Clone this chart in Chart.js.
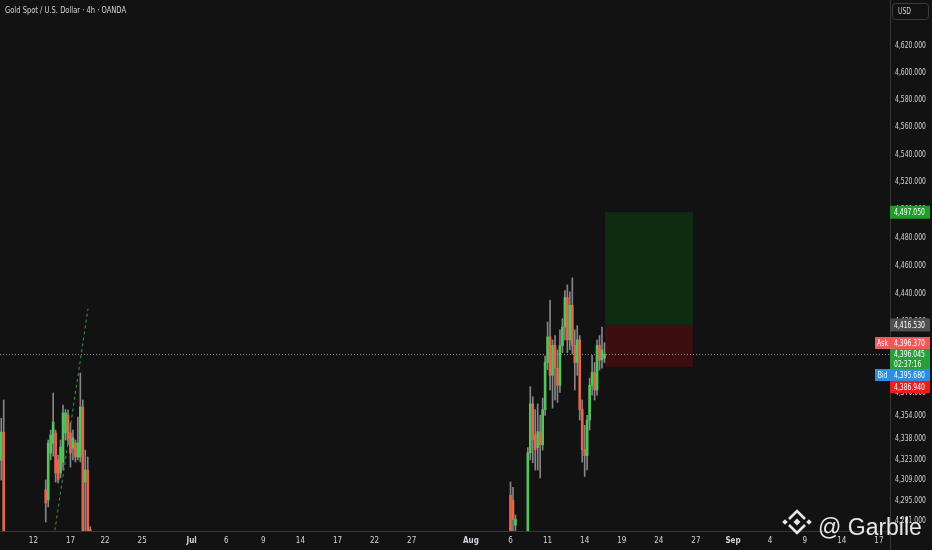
<!DOCTYPE html>
<html>
<head>
<meta charset="utf-8">
<title>Gold Spot / U.S. Dollar · 4h · OANDA</title>
<style>
html,body{margin:0;padding:0;background:#121212;overflow:hidden;}
#wrap{width:932px;height:550px;position:relative;}
canvas{display:block;}
</style>
<script src="https://cdn.jsdelivr.net/npm/chart.js@4/dist/chart.umd.min.js"></script>
</head>
<body>
<div id="wrap"><canvas id="c" width="932" height="550"></canvas></div>
<script>
// ---------------- DATA ----------------
const chartTitle = 'Gold Spot / U.S. Dollar · 4h · OANDA';
const currencyLabel = 'USD';

// bar (4h slot) index of each candle
const candleSlot = [0,1,18,19,20,21,22,23,24,25,26,27,28,29,30,31,32,33,34,35,36,
  206,207,208,213,214,215,216,217,218,219,220,221,222,223,224,225,226,227,228,229,230,231,232,233,234,235,236,237,238,239,240,241,242,243,244];
const open  = [4321.9,4341.3,4301.2,4294.3,4326.7,4333.7,4340.6,4321.9,4312.9,4320.5,4340.6,4353.2,4340.6,4330.2,4333.7,4324.0,4324.0,4358.8,4306.7,4315.0,4274.0,
  4297.6,4294.0,4277.0,4266.0,4327.0,4361.0,4339.5,4330.5,4341.6,4332.5,4357.0,4390.0,4408.0,4381.0,4402.0,4386.0,4374.0,4402.0,4415.0,4436.0,4406.0,4430.5,4402.0,4390.0,4406.0,4357.0,4329.0,4325.0,4349.7,4374.0,4383.0,4370.7,4402.0,4391.8,4393.0];
const high  = [4351.0,4363.7,4308.1,4335.8,4342.7,4368.6,4342.7,4325.3,4335.8,4360.2,4357.0,4356.7,4347.6,4342.7,4335.8,4351.8,4382.6,4363.7,4328.8,4324.0,4276.0,
  4306.7,4303.0,4284.0,4330.5,4373.0,4366.0,4357.0,4361.0,4353.0,4365.0,4394.6,4418.6,4434.0,4405.9,4409.0,4398.8,4413.0,4421.0,4441.0,4445.0,4440.0,4450.0,4413.0,4416.0,4409.0,4363.7,4346.0,4353.0,4379.0,4395.0,4390.0,4405.9,4409.0,4415.0,4404.0];
const low   = [4308.0,4255.0,4279.2,4289.5,4322.0,4324.6,4306.7,4306.0,4309.5,4315.0,4335.8,4332.3,4317.0,4321.9,4320.5,4321.9,4320.5,4250.0,4265.0,4255.0,4260.0,
  4262.0,4267.0,4271.0,4262.0,4322.0,4320.0,4315.0,4315.0,4309.5,4328.8,4353.0,4385.0,4370.7,4358.0,4363.7,4362.0,4369.0,4397.0,4406.0,4397.0,4399.0,4396.0,4370.7,4381.0,4349.7,4320.5,4310.5,4315.0,4342.7,4367.0,4363.7,4367.0,4384.7,4386.0,4390.0];
const close = [4341.3,4262.0,4292.2,4333.7,4339.2,4348.3,4312.9,4308.1,4330.9,4354.6,4354.6,4335.8,4326.7,4337.2,4324.0,4333.7,4358.8,4262.0,4315.0,4262.0,4268.0,
  4269.0,4281.0,4281.0,4327.0,4361.0,4336.0,4329.0,4341.6,4332.5,4357.0,4390.0,4408.0,4381.0,4402.0,4386.0,4374.0,4402.0,4415.0,4436.0,4406.0,4430.5,4402.0,4390.0,4406.0,4357.0,4329.0,4325.0,4349.7,4374.0,4383.0,4370.7,4402.0,4391.8,4398.8,4396.045];

// time axis labels and the bar slot where each falls
const xTickLabels = ['12','17','22','25','Jul','6','9','14','17','22','27','Aug','6','11','14','19','24','27','Sep','4','9','14','17'];
const xTickSlots  = [13,28,42,57,77,91,106,121,136,151,166,190,206,221,236,251,266,281,296,311,325,340,355];

// price axis (log scale) tick values
const yTicks = [4620,4600,4580,4560,4540,4520,4500,4480,4460,4440,4420,4400,4385,4370,4354,4338,4323,4309,4295,4281];

// drawing: dashed trend line (slot, price)
const trendSlots  = [21.7, 35.1];
const trendPrices = [4273.5, 4428.0];

// long position tool
const positionSlots = [244.2, 279.8];
const targetPrice = 4497.050;
const entryPrice  = 4416.530;
const stopPrice   = 4386.940;

// quote
const lastPrice = 4396.045;
const askPrice  = 4396.370;
const bidPrice  = 4395.680;
const countdown = '02:37:16';

const watermarkText = '@ Garbile';

// ---------------- STYLE ----------------
const BG = '#121212';
const FONT = "'Liberation Sans Narrow', 'DejaVu Sans Condensed', 'Liberation Sans', sans-serif";
const UP = '#52c45a';
const DOWN = '#e2674f';
const WICK = '#858585';
const AXIS_LINE = '#383838';
const TEXT = '#d1d4dc';

const fmt = v => Number(v).toLocaleString('en-US', {minimumFractionDigits: 3, maximumFractionDigits: 3});

// horizontal text compression so glyph widths match the narrow UI font
const mctx = document.createElement('canvas').getContext('2d');
function textWidth(t, size) { mctx.font = size + 'px ' + FONT; return mctx.measureText(t).width; }
const K_AXIS  = Math.min(1, 31 / textWidth('4,620.000', 8.5));
const K_TITLE = Math.min(1, 121 / textWidth(chartTitle, 8.5));

function squeezedText(ctx, t, x, y, k, align) {
  ctx.save();
  ctx.translate(x, y);
  ctx.scale(k, 1);
  ctx.textAlign = align || 'left';
  ctx.fillText(t, 0, 0);
  ctx.restore();
}

const candles = candleSlot.map((s, i) => ({s, o: open[i], h: high[i], l: low[i], c: close[i]}));

function priceBox(ctx, x, y, w, h, bg, lines, center) {
  ctx.fillStyle = bg;
  ctx.fillRect(x, y, w, h);
  ctx.fillStyle = '#ffffff';
  ctx.font = '8.5px ' + FONT;
  ctx.textBaseline = 'middle';
  const lh = h / lines.length;
  lines.forEach((t, i) => {
    squeezedText(ctx, t, center ? x + w / 2 : x + 4, y + lh * i + lh / 2 + 0.5, K_AXIS, center ? 'center' : 'left');
  });
}

const overlay = {
  id: 'overlay',
  afterLayout(chart) {
    const ys = chart.scales.y;
    if (!ys._squeezed) {
      const orig = ys.drawLabels.bind(ys);
      ys._computeLabelArea = function () { return undefined; };
      ys.drawLabels = function (area) {
        const ctx = this.ctx, x0 = this.left + 5;
        ctx.save();
        ctx.translate(x0, 1.5); ctx.scale(K_AXIS, 1); ctx.translate(-x0, 0);
        orig(area);
        ctx.restore();
      };
      ys._squeezed = true;
    }
  },
  beforeDraw(chart) {
    const ctx = chart.ctx;
    ctx.save();
    ctx.fillStyle = BG;
    ctx.fillRect(0, 0, chart.width, chart.height);
    ctx.restore();
  },
  beforeDatasetsDraw(chart) {
    const ctx = chart.ctx, xs = chart.scales.x, ys = chart.scales.y;
    const x0 = xs.getPixelForValue(positionSlots[0]);
    const x1 = xs.getPixelForValue(positionSlots[1]);
    const yT = ys.getPixelForValue(targetPrice);
    const yE = ys.getPixelForValue(entryPrice);
    const yS = ys.getPixelForValue(stopPrice);
    ctx.save();
    ctx.fillStyle = '#0f2c13';
    ctx.fillRect(x0, yT, x1 - x0, yE - yT);
    ctx.fillStyle = '#3b0f10';
    ctx.fillRect(x0, yE, x1 - x0, yS - yE);
    ctx.restore();
  },
  afterDatasetsDraw(chart) {
    const ctx = chart.ctx, ys = chart.scales.y, a = chart.chartArea;
    const y = Math.round(ys.getPixelForValue(lastPrice)) + 0.5;
    ctx.save();
    ctx.strokeStyle = '#8c8c8c';
    ctx.lineWidth = 1;
    ctx.setLineDash([1, 2]);
    ctx.beginPath();
    ctx.moveTo(a.left, y);
    ctx.lineTo(a.right, y);
    ctx.stroke();
    ctx.restore();
  },
  afterDraw(chart) {
    const ctx = chart.ctx, ys = chart.scales.y, a = chart.chartArea;
    ctx.save();
    // axis borders
    ctx.strokeStyle = AXIS_LINE;
    ctx.lineWidth = 1;
    ctx.beginPath();
    ctx.moveTo(a.right + 0.5, 0);
    ctx.lineTo(a.right + 0.5, chart.height);
    ctx.moveTo(0, a.bottom + 0.5);
    ctx.lineTo(a.right, a.bottom + 0.5);
    ctx.stroke();

    // title
    ctx.fillStyle = TEXT;
    ctx.font = '8.5px ' + FONT;
    ctx.textBaseline = 'middle';
    squeezedText(ctx, chartTitle, 5, 11, K_TITLE);

    // currency box
    ctx.strokeStyle = '#3e3e3e';
    ctx.beginPath();
    if (ctx.roundRect) ctx.roundRect(892.5, 3.5, 36, 16, 3); else ctx.rect(892.5, 3.5, 36, 16);
    ctx.stroke();
    ctx.fillStyle = TEXT;
    ctx.font = '8.5px ' + FONT;
    squeezedText(ctx, currencyLabel, 898, 12, K_AXIS);

    // price labels
    const bx = a.right, bw = 40;
    const yT = ys.getPixelForValue(targetPrice);
    priceBox(ctx, bx, yT - 6.5, bw, 13, '#1f9d27', [fmt(targetPrice)]);
    const yE = ys.getPixelForValue(entryPrice);
    priceBox(ctx, bx, yE - 6.5, bw, 13, '#505050', [fmt(entryPrice)]);
    const mainTop = Math.round(ys.getPixelForValue(lastPrice)) - 5;
    priceBox(ctx, bx, mainTop - 12, bw, 12, '#ee5a5a', [fmt(askPrice)]);
    priceBox(ctx, bx - 15, mainTop - 12, 15, 12, '#ee5a5a', ['Ask'], true);
    priceBox(ctx, bx, mainTop, bw, 20, '#27a03b', [fmt(lastPrice), countdown]);
    priceBox(ctx, bx, mainTop + 20, bw, 12, '#2a8fe4', [fmt(bidPrice)]);
    priceBox(ctx, bx - 15, mainTop + 20, 15, 12, '#2a8fe4', ['Bid'], true);
    const stopTop = Math.max(ys.getPixelForValue(stopPrice) - 6, mainTop + 32);
    priceBox(ctx, bx, stopTop, bw, 12, '#f01b1b', [fmt(stopPrice)]);

    // watermark
    ctx.fillStyle = 'rgba(255,255,255,0.9)';
    ctx.strokeStyle = 'rgba(255,255,255,0.9)';
    const cx = 797, cy = 522;
    ctx.lineWidth = 2.6;
    ctx.beginPath();
    ctx.moveTo(cx - 8, cy - 3); ctx.lineTo(cx, cy - 11); ctx.lineTo(cx + 8, cy - 3);
    ctx.moveTo(cx - 8, cy + 3); ctx.lineTo(cx, cy + 11); ctx.lineTo(cx + 8, cy + 3);
    ctx.stroke();
    const dia = (x, y, r) => { ctx.beginPath(); ctx.moveTo(x, y - r); ctx.lineTo(x + r, y); ctx.lineTo(x, y + r); ctx.lineTo(x - r, y); ctx.closePath(); ctx.fill(); };
    dia(cx, cy, 3.5); dia(cx - 12, cy, 2.8); dia(cx + 12, cy, 2.8);
    ctx.font = "23px 'Liberation Sans', sans-serif";
    ctx.textBaseline = 'alphabetic';
    ctx.textAlign = 'left';
    ctx.fillText(watermarkText, 818, 535);
    ctx.restore();
  }
};

new Chart(document.getElementById('c').getContext('2d'), {
  type: 'bar',
  data: {
    datasets: [
      {
        type: 'bar', label: 'wick', clip: 0, grouped: false, order: 3,
        data: candles.map(c => ({x: c.s, y: [c.l, c.h]})),
        backgroundColor: WICK, barThickness: 1, borderWidth: 0
      },
      {
        type: 'bar', label: 'body', clip: 0, grouped: false, order: 2,
        data: candles.map(c => ({x: c.s, y: [c.o, c.c]})),
        backgroundColor: candles.map(c => c.c >= c.o ? UP : DOWN), barThickness: 2, borderWidth: 0
      },
      {
        type: 'line', label: 'trend', clip: 0, order: 1,
        data: trendSlots.map((x, i) => ({x: x, y: trendPrices[i]})),
        borderColor: '#3b9a4b', borderWidth: 1, borderDash: [3, 3], pointRadius: 0, fill: false
      }
    ]
  },
  options: {
    responsive: false,
    animation: false,
    devicePixelRatio: 1,
    layout: {padding: 0},
    plugins: {legend: {display: false}, tooltip: {enabled: false}},
    scales: {
      x: {
        type: 'linear', min: -0.5, max: 359.5, offset: false,
        grid: {display: false, drawTicks: false}, border: {display: false},
        afterBuildTicks: s => { s.ticks = xTickSlots.map(v => ({value: v})); },
        afterFit: s => { s.height = 19; s.paddingLeft = 0; s.paddingRight = 0; },
        ticks: {
          autoSkip: false, maxRotation: 0, minRotation: 0, padding: 5, color: TEXT,
          font: ctx => ({family: FONT, size: 8, weight: /^[A-Z]/.test(xTickLabels[ctx.index] || '') ? 'bold' : 'normal'}),
          callback: (v, i) => xTickLabels[i]
        }
      },
      y: {
        type: 'logarithmic', position: 'right', min: 4273.0, max: 4652.7, bounds: 'data',
        grid: {display: false, drawTicks: false}, border: {display: false},
        afterBuildTicks: s => { s.ticks = yTicks.map(v => ({value: v})); },
        afterFit: s => { s.width = 42; s.paddingTop = 0; s.paddingBottom = 0; },
        ticks: {
          autoSkip: false, padding: 5, color: TEXT,
          font: {family: FONT, size: 8.5},
          callback: v => fmt(v)
        }
      }
    }
  },
  plugins: [overlay]
});
</script>
</body>
</html>
